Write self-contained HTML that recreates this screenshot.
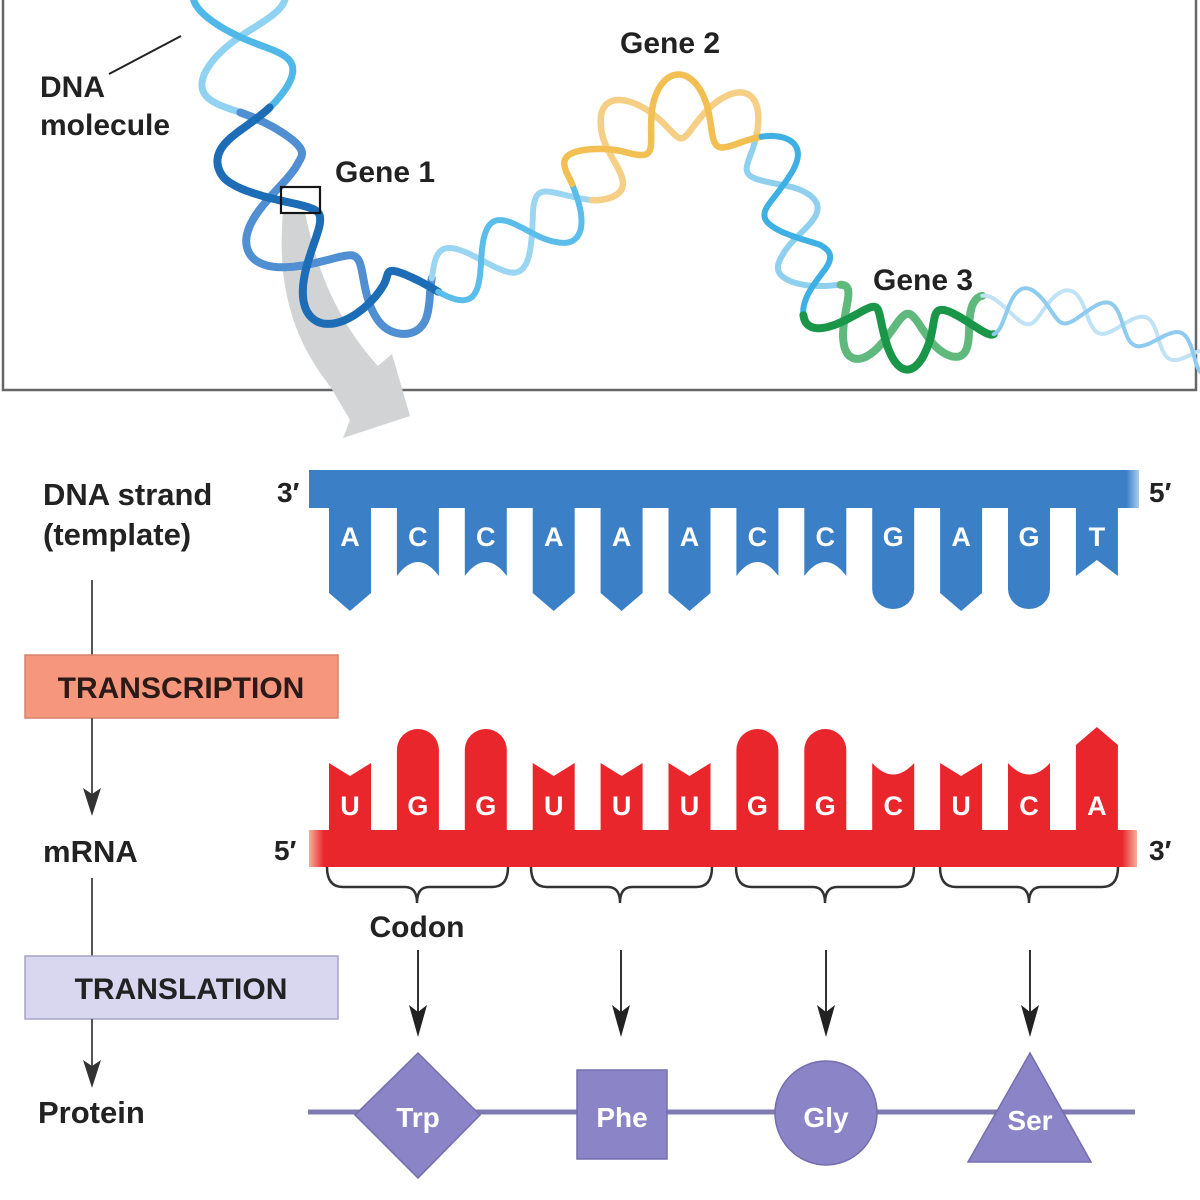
<!DOCTYPE html>
<html><head><meta charset="utf-8"><style>
html,body{margin:0;padding:0;background:#fff;}
svg{display:block;}
text{font-family:"Liberation Sans",Arial,sans-serif;font-weight:bold;}
</style></head><body>
<svg id="s" width="1200" height="1200" viewBox="0 0 1200 1200" xmlns="http://www.w3.org/2000/svg">
<defs>
<linearGradient id="gb" x1="0" x2="1" y1="0" y2="0">
<stop offset="0" stop-color="#3b80c6"/><stop offset="0.985" stop-color="#3b80c6"/><stop offset="1" stop-color="#a9cbeb"/>
</linearGradient>
<linearGradient id="gr" x1="0" x2="1" y1="0" y2="0">
<stop offset="0" stop-color="#f6b09c"/><stop offset="0.018" stop-color="#e8262b"/><stop offset="0.982" stop-color="#e8262b"/><stop offset="1" stop-color="#f6b09c"/>
</linearGradient>
</defs>
<rect width="1200" height="1200" fill="#fff"/>
<rect x="3" y="-10" width="1193" height="400" fill="none" stroke="#666" stroke-width="2.5"/>
<path d="M283,212 C278,270 285,330 330,386 L350,420 L343,438 L410,416 L392,354 L378,366 C345,330 318,280 305,212 Z" fill="#d1d3d5"/>
<g id="helix"></g>
<line x1="109" y1="74" x2="181" y2="36" stroke="#222" stroke-width="2"/>
<rect x="281" y="187" width="39" height="26" fill="none" stroke="#151515" stroke-width="2.2"/>
<text x="40" y="97" font-size="30" fill="#222">DNA</text>
<text x="40" y="135" font-size="30" fill="#222">molecule</text>
<text x="335" y="182" font-size="30" fill="#222">Gene 1</text>
<text x="620" y="53" font-size="30" fill="#222">Gene 2</text>
<text x="873" y="290" font-size="30" fill="#222">Gene 3</text>

<!-- left column -->
<text x="43" y="505" font-size="31" fill="#222">DNA strand</text>
<text x="43" y="545" font-size="31" fill="#222">(template)</text>
<line x1="92" y1="580" x2="92" y2="655" stroke="#555" stroke-width="2"/>
<rect x="25" y="655" width="313" height="63" fill="#f6977d" stroke="#d9826b" stroke-width="1.5"/>
<text x="181" y="698" font-size="30" fill="#2b1a17" text-anchor="middle">TRANSCRIPTION</text>
<line x1="92" y1="718" x2="92" y2="795" stroke="#555" stroke-width="2"/>
<path d="M83,788 L92,816 L101,788 L92,794 Z" fill="#333"/>
<text x="43" y="862" font-size="31" fill="#222">mRNA</text>
<line x1="92" y1="878" x2="92" y2="956" stroke="#555" stroke-width="2"/>
<rect x="25" y="956" width="313" height="63" fill="#d9d6ef" stroke="#a8a4c8" stroke-width="1.5"/>
<text x="181" y="999" font-size="30" fill="#222" text-anchor="middle">TRANSLATION</text>
<line x1="92" y1="1019" x2="92" y2="1068" stroke="#555" stroke-width="2"/>
<path d="M83,1060 L92,1088 L101,1060 L92,1066 Z" fill="#333"/>
<text x="38" y="1123" font-size="31" fill="#222">Protein</text>

<!-- DNA template strand -->
<text x="277" y="502" font-size="28" fill="#222">3′</text>
<text x="1149" y="502" font-size="28" fill="#222">5′</text>
<g id="dna"></g>
<!-- mRNA -->
<text x="274" y="860" font-size="28" fill="#222">5′</text>
<text x="1149" y="860" font-size="28" fill="#222">3′</text>
<g id="rna"></g>
<g id="braces" fill="none" stroke="#333" stroke-width="2.5"></g>
<text x="417" y="937" font-size="30" fill="#222" text-anchor="middle">Codon</text>
<g id="arrows"></g>

<!-- protein -->
<line x1="308" y1="1112" x2="1135" y2="1112" stroke="#7f7aaf" stroke-width="5"/>
<polygon points="418,1053 480,1115 418,1178 355,1115" fill="#8b84c7" stroke="#746eb0" stroke-width="1.5"/>
<rect x="577" y="1070" width="90" height="89" fill="#8b84c7" stroke="#746eb0" stroke-width="1.5"/>
<ellipse cx="826" cy="1113" rx="51" ry="52" fill="#8b84c7" stroke="#746eb0" stroke-width="1.5"/>
<polygon points="1030,1053 1091,1162 968,1162" fill="#8b84c7" stroke="#746eb0" stroke-width="1.5"/>
<text x="418" y="1127" font-size="28" fill="#fff" text-anchor="middle">Trp</text>
<text x="622" y="1127" font-size="28" fill="#fff" text-anchor="middle">Phe</text>
<text x="826" y="1127" font-size="28" fill="#fff" text-anchor="middle">Gly</text>
<text x="1030" y="1130" font-size="28" fill="#fff" text-anchor="middle">Ser</text>
</svg>
<script>
(function(){
var NS="http://www.w3.org/2000/svg";
function el(tag,attrs,parent,txt){var e=document.createElementNS(NS,tag);for(var k in attrs)e.setAttribute(k,attrs[k]);if(txt!==undefined)e.textContent=txt;parent.appendChild(e);return e;}
// DNA template
var dna=document.getElementById('dna');
el('rect',{x:309,y:470,width:830,height:38,fill:'url(#gb)'},dna);
var dseq="ACCAAACCGAGT";
for(var i=0;i<12;i++){
 var cx=350+67.9*i, l=cx-21, r=cx+21, d, b=dseq[i];
 if(b=='A') d='M'+l+',506 V593 L'+cx+',611 L'+r+',593 V506 Z';
 else if(b=='G') d='M'+l+',506 V589 A21,20 0 0 0 '+r+',589 V506 Z';
 else if(b=='C') d='M'+l+',506 V576 Q'+cx+',548 '+r+',576 V506 Z';
 else d='M'+l+',506 V576 L'+cx+',560 L'+r+',576 V506 Z';
 el('path',{d:d,fill:'#3b80c6'},dna);
 el('text',{x:cx,y:546,'font-size':27,fill:'#fff','text-anchor':'middle'},dna,b);
}
// mRNA
var rna=document.getElementById('rna');
var rseq="UGGUUUGGCUCA";
for(var i=0;i<12;i++){
 var cx=350+67.9*i, l=cx-21, r=cx+21, d, b=rseq[i];
 if(b=='U') d='M'+l+',832 V763 L'+cx+',776 L'+r+',763 V832 Z';
 else if(b=='G') d='M'+l+',832 V750 A21,21 0 0 1 '+r+',750 V832 Z';
 else if(b=='C') d='M'+l+',832 V763 Q'+cx+',786 '+r+',763 V832 Z';
 else d='M'+l+',832 V745 L'+cx+',727 L'+r+',745 V832 Z';
 el('path',{d:d,fill:'#e8262b'},rna);
}
el('rect',{x:309,y:830,width:828,height:37,fill:'url(#gr)'},rna);
for(var i=0;i<12;i++){
 var cx=350+67.9*i;
 el('text',{x:cx,y:815,'font-size':27,fill:'#fff','text-anchor':'middle'},rna,rseq[i]);
}
// braces
var br=document.getElementById('braces');
var B=[[327,508,417],[531,712,620],[736,914,825],[940,1118,1029]];
B.forEach(function(q){
 var a=q[0],b=q[1],c=q[2];
 el('path',{d:'M'+a+',867 Q'+a+',887 '+(a+16)+',887 H'+(c-12)+' Q'+c+',887 '+c+',903 Q'+c+',887 '+(c+12)+',887 H'+(b-16)+' Q'+b+',887 '+b+',867'},br);
});
// codon arrows
var ar=document.getElementById('arrows');
[418,621,826,1030].forEach(function(x){
 el('line',{x1:x,y1:950,x2:x,y2:1012,stroke:'#333','stroke-width':2},ar);
 el('path',{d:'M'+(x-9)+',1005 L'+x+',1037 L'+(x+9)+',1005 L'+x+',1012 Z',fill:'#222'},ar);
});
// helix
var pts=[
[240,-40,45,170,0],[240,40,48,170,0],[255,110,45,165,1],[262,170,42,160,1],[285,235,40,155,1],
[330,285,38,150,1],[385,305,35,140,1],[435,285,28,115,2],[490,255,28,115,2],[545,225,28,115,2],
[582,192,32,115,3],[615,140,32,115,3],[660,110,32,115,3],[710,110,32,115,3],[758,140,28,110,4],
[785,190,27,110,4],[800,250,27,105,4],[822,300,27,95,5],[870,335,28,90,5],[930,340,28,90,5],
[988,315,20,80,6],[1050,305,17,80,6],[1110,320,16,78,6],[1185,350,14,75,6],[1210,362,14,75,6]];
var cols=[['#4fb8e8','#8fd2f2',7],['#1c6cb6','#4f8fd2',8],['#5bbde9','#9ad5f1',6],['#f1bf52','#f5cf85',6.5],['#3fb0e3','#8fd0ef',6],['#1a9648','#5fb97c',8],['#8fcbee','#bfe2f5',4]];
function crv(a,b,c,d,t){var t2=t*t,t3=t2*t;return 0.5*(2*b+(-a+c)*t+(2*a-5*b+4*c-d)*t2+(-a+3*b-3*c+d)*t3);}
var S=[],n=pts.length;
for(var i=0;i<n-1;i++){
 var p0=pts[Math.max(i-1,0)],p1=pts[i],p2=pts[i+1],p3=pts[Math.min(i+2,n-1)];
 for(var k=0;k<30;k++){
  var t=k/30;
  S.push({x:crv(p0[0],p1[0],p2[0],p3[0],t),y:crv(p0[1],p1[1],p2[1],p3[1],t),A:p1[2]+(p2[2]-p1[2])*t,P:p1[3]+(p2[3]-p1[3])*t,c:p1[4]});
 }
}
var ph=0.3;
for(var k=0;k<S.length;k++){
 var a=S[Math.max(k-1,0)],b=S[Math.min(k+1,S.length-1)];
 var tx=b.x-a.x,ty=b.y-a.y,L=Math.sqrt(tx*tx+ty*ty)||1;tx/=L;ty/=L;
 if(k>0){var dx=S[k].x-S[k-1].x,dy=S[k].y-S[k-1].y;ph+=2*Math.PI*Math.sqrt(dx*dx+dy*dy)/S[k].P;}
 var nx=-ty,ny=tx,s=Math.sin(ph)*S[k].A;
 S[k].x1=S[k].x+nx*s;S[k].y1=S[k].y+ny*s;
 S[k].x2=S[k].x-nx*s;S[k].y2=S[k].y-ny*s;
}
var g=document.getElementById('helix');
function draw(which,ci){
 var d='',cur=-1;
 function flush(){if(d&&cur>=0)el('path',{d:d,fill:'none',stroke:cols[cur][ci],'stroke-width':cols[cur][2],'stroke-linecap':'round','stroke-linejoin':'round'},g);}
 for(var k=0;k<S.length;k++){
  var x=which==1?S[k].x1:S[k].x2,y=which==1?S[k].y1:S[k].y2;
  if(S[k].c!==cur){ if(d){d+=' L'+x.toFixed(1)+','+y.toFixed(1);} flush(); cur=S[k].c; d='M'+x.toFixed(1)+','+y.toFixed(1);}
  else d+=' L'+x.toFixed(1)+','+y.toFixed(1);
 }
 flush();
}
draw(2,1);draw(1,0);
})();
</script>
</body></html>
